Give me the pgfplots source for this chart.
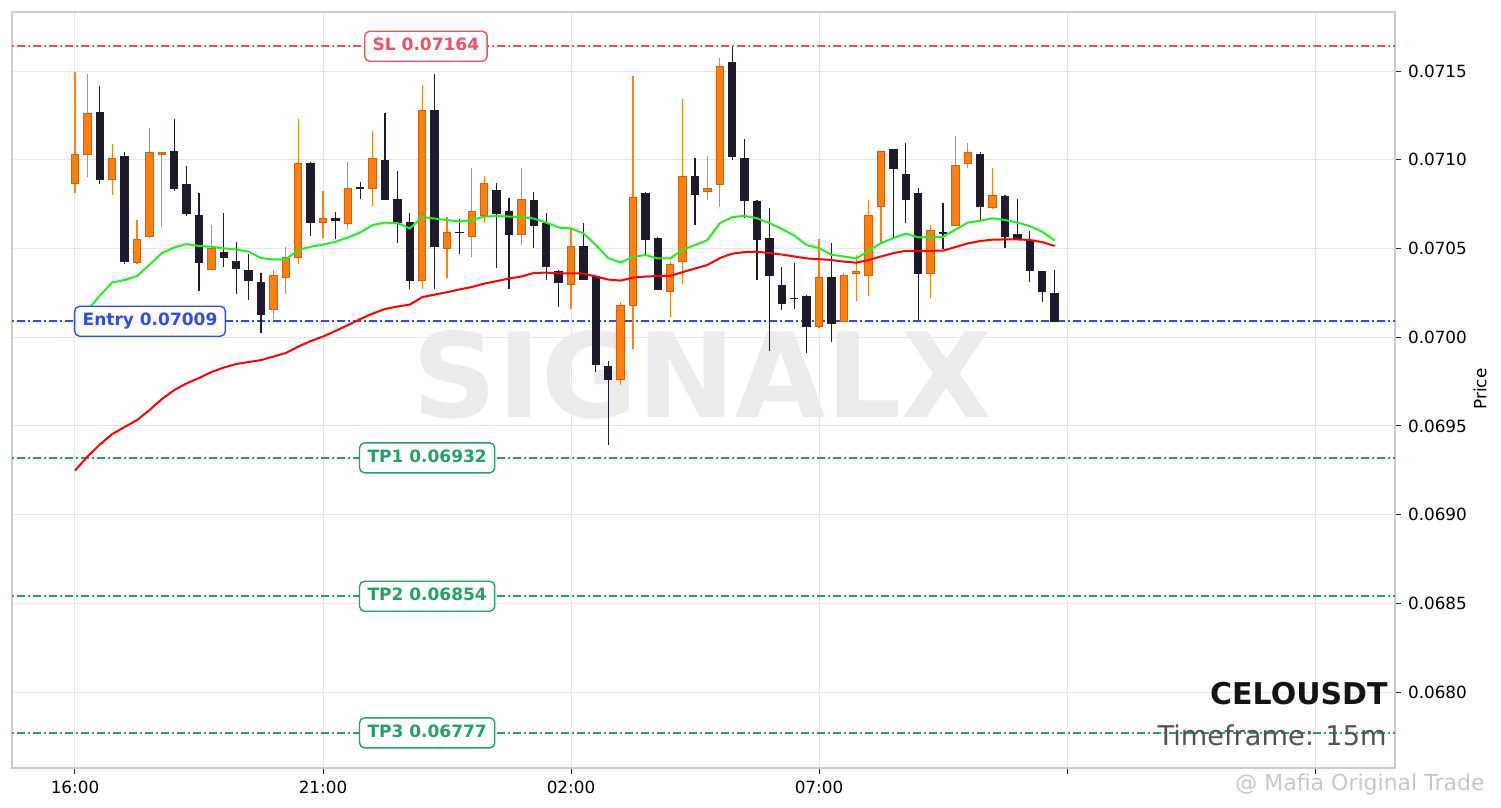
\documentclass[border=0pt]{standalone}
\usepackage{pgfplots}
\pgfplotsset{compat=1.18}
\usepackage{pgfplotstable}
\usepackage{fontspec}
\setmainfont{DejaVu Sans}
\definecolor{upfill}{RGB}{255,127,14}
\definecolor{upedge}{RGB}{214,96,10}
\definecolor{dncol}{RGB}{30,26,43}
\definecolor{slcol}{RGB}{242,80,98}
\definecolor{encol}{RGB}{45,75,240}
\definecolor{tpcol}{RGB}{36,160,100}
\definecolor{emag}{RGB}{34,238,34}
\definecolor{gridc}{RGB}{230,230,230}
\definecolor{framec}{RGB}{204,204,204}
\definecolor{wmark}{RGB}{235,235,235}

% up (orange) candles: index open high low close
\pgfplotstableread{
i O H L C
0 0.070867 0.071496 0.070811 0.071030
1 0.071030 0.071481 0.070904 0.071262
3 0.070890 0.071087 0.070800 0.071008
5 0.070420 0.070659 0.070412 0.070551
6 0.070566 0.071177 0.070557 0.071042
7 0.071030 0.071044 0.070619 0.071042
11 0.070384 0.070632 0.070378 0.070501
16 0.070157 0.070378 0.070101 0.070349
17 0.070337 0.070510 0.070243 0.070450
18 0.070450 0.071228 0.070412 0.070980
20 0.070645 0.070825 0.070557 0.070670
22 0.070642 0.070989 0.070608 0.070839
24 0.070839 0.071162 0.070739 0.071008
28 0.070318 0.071421 0.070270 0.071280
30 0.070499 0.070679 0.070332 0.070591
32 0.070566 0.070952 0.070450 0.070709
33 0.070684 0.070908 0.070645 0.070867
36 0.070580 0.070952 0.070519 0.070777
40 0.070296 0.070617 0.070157 0.070510
44 0.069762 0.070200 0.069730 0.070177
45 0.070177 0.071472 0.069933 0.070786
48 0.070260 0.070425 0.070112 0.070411
49 0.070425 0.071341 0.070300 0.070908
51 0.070820 0.071021 0.070773 0.070839
52 0.070861 0.071572 0.070735 0.071528
60 0.070059 0.070551 0.070050 0.070337
62 0.070087 0.070360 0.070087 0.070349
63 0.070360 0.070463 0.070205 0.070373
64 0.070346 0.070773 0.070232 0.070688
65 0.070739 0.071049 0.070532 0.071049
69 0.070360 0.070632 0.070219 0.070600
71 0.070628 0.071135 0.070628 0.070969
72 0.070980 0.071096 0.070952 0.071042
74 0.070730 0.070952 0.070721 0.070801
}\up

% down (dark) candles
\pgfplotstableread{
i O H L C
2 0.071270 0.071417 0.070863 0.070890
4 0.071019 0.071045 0.070412 0.070425
8 0.071049 0.071228 0.070825 0.070837
9 0.070863 0.070966 0.070684 0.070694
10 0.070688 0.070811 0.070260 0.070420
12 0.070480 0.070698 0.070397 0.070450
13 0.070429 0.070538 0.070243 0.070386
14 0.070378 0.070467 0.070209 0.070318
15 0.070309 0.070360 0.070022 0.070125
19 0.070980 0.070989 0.070570 0.070645
21 0.070670 0.070707 0.070551 0.070656
23 0.070846 0.070876 0.070777 0.070835
25 0.070998 0.071262 0.070773 0.070777
26 0.070777 0.070938 0.070529 0.070645
27 0.070647 0.070698 0.070270 0.070318
29 0.071280 0.071481 0.070270 0.070510
31 0.070593 0.070666 0.070469 0.070587
34 0.070829 0.070867 0.070388 0.070694
35 0.070709 0.070783 0.070270 0.070580
37 0.070773 0.070820 0.070501 0.070628
38 0.070645 0.070698 0.070322 0.070397
39 0.070374 0.070380 0.070172 0.070307
41 0.070510 0.070642 0.070322 0.070326
42 0.070346 0.070350 0.069802 0.069847
43 0.069839 0.069867 0.069392 0.069762
46 0.070811 0.070820 0.070463 0.070551
47 0.070557 0.070562 0.070265 0.070270
50 0.070908 0.071008 0.070632 0.070801
53 0.071549 0.071637 0.070998 0.071017
54 0.071008 0.071117 0.070670 0.070769
55 0.070769 0.070773 0.070322 0.070551
56 0.070557 0.070730 0.069924 0.070346
57 0.070290 0.070397 0.070153 0.070191
58 0.070222 0.070420 0.070157 0.070215
59 0.070232 0.070238 0.069909 0.070059
61 0.070337 0.070529 0.069974 0.070074
66 0.071059 0.071060 0.070566 0.070952
67 0.070918 0.071096 0.070642 0.070777
68 0.070811 0.070839 0.070097 0.070360
70 0.070591 0.070758 0.070495 0.070581
73 0.071030 0.071045 0.070660 0.070735
75 0.070792 0.070801 0.070501 0.070566
76 0.070580 0.070777 0.070551 0.070553
77 0.070542 0.070600 0.070309 0.070374
78 0.070373 0.070375 0.070200 0.070256
79 0.070247 0.070378 0.070087 0.070090
}\dn

% moving averages: index green red
\pgfplotstableread{
i G R
0 0.070057 0.069248
1 0.070153 0.069327
2 0.070234 0.069395
3 0.070309 0.069454
4 0.070322 0.069494
5 0.070345 0.069533
6 0.070408 0.069589
7 0.070474 0.069651
8 0.070506 0.069702
9 0.070525 0.069740
10 0.070514 0.069770
11 0.070510 0.069804
12 0.070501 0.069829
13 0.070494 0.069849
14 0.070482 0.069860
15 0.070446 0.069871
16 0.070438 0.069891
17 0.070440 0.069911
18 0.070491 0.069947
19 0.070510 0.069978
20 0.070522 0.070004
21 0.070538 0.070035
22 0.070562 0.070068
23 0.070590 0.070102
24 0.070632 0.070133
25 0.070646 0.070159
26 0.070643 0.070173
27 0.070613 0.070184
28 0.070677 0.070226
29 0.070669 0.070240
30 0.070660 0.070254
31 0.070652 0.070269
32 0.070660 0.070283
33 0.070680 0.070302
34 0.070683 0.070316
35 0.070680 0.070331
36 0.070677 0.070342
37 0.070669 0.070362
38 0.070646 0.070364
39 0.070618 0.070360
40 0.070613 0.070360
41 0.070585 0.070359
42 0.070519 0.070342
43 0.070446 0.070325
44 0.070421 0.070319
45 0.070453 0.070336
46 0.070463 0.070342
47 0.070444 0.070345
48 0.070444 0.070345
49 0.070494 0.070367
50 0.070519 0.070387
51 0.070548 0.070407
52 0.070643 0.070446
53 0.070677 0.070471
54 0.070684 0.070480
55 0.070670 0.070482
56 0.070643 0.070474
57 0.070610 0.070466
58 0.070573 0.070455
59 0.070519 0.070444
60 0.070502 0.070440
61 0.070465 0.070435
62 0.070455 0.070426
63 0.070444 0.070420
64 0.070486 0.070435
65 0.070531 0.070455
66 0.070559 0.070474
67 0.070584 0.070487
68 0.070563 0.070487
69 0.070564 0.070487
70 0.070566 0.070488
71 0.070607 0.070508
72 0.070646 0.070529
73 0.070657 0.070542
74 0.070670 0.070550
75 0.070660 0.070551
76 0.070646 0.070551
77 0.070626 0.070548
78 0.070594 0.070536
79 0.070545 0.070514
}\ema

\tikzset{lbl/.style={fill=white, rounded corners=2.5pt, line width=0.7pt,
  font=\fontsize{8.5}{10}\selectfont\bfseries, inner xsep=4pt, inner ysep=0pt,
  minimum height=15pt, text height=6.2pt, text depth=1.6pt}}
\pgfplotsset{hl/.style={line width=0.85pt, dash pattern=on 4pt off 1.5pt on 1pt off 1.5pt, forget plot, mark=none},
  cndl/.style={draw=none, mark=none, forget plot, error bars/.cd, y dir=plus, y explicit, error mark=none}}

\begin{document}
\begin{tikzpicture}
\path[use as bounding box] (-6pt,-20pt) rectangle (744.5pt,384pt);
\begin{axis}[
  at={(0pt,0pt)}, anchor=south west,
  scale only axis, width=691.5pt, height=378pt,
  xmin=-5.08, xmax=106.45, ymin=0.067572, ymax=0.071833,
  axis line style={framec, line width=0.6pt},
  xtick={0,20,40,60,80,100}, xticklabels={16:00,21:00,02:00,07:00,{},{}},
  ytick={0.068,0.0685,0.069,0.0695,0.07,0.0705,0.071,0.0715},
  yticklabels={0.0680,0.0685,0.0690,0.0695,0.0700,0.0705,0.0710,0.0715},
  scaled y ticks=false,
  xtick pos=bottom, ytick pos=right, yticklabel pos=right,
  tick align=outside, major tick length=3pt,
  tick style={black!85, line width=0.5pt},
  grid=major, major grid style={gridc, line width=0.5pt},
  ticklabel style={font=\fontsize{8.4}{10}\selectfont},
  clip mode=individual,
]
\node[font=\fontsize{58.7}{60}\selectfont\bfseries, text=wmark] at (axis cs:50.6,0.069787) {SIGNALX};

\addplot[hl, draw=slcol] coordinates {(-6,0.07164) (107,0.07164)};
\addplot[hl, draw=encol] coordinates {(-6,0.07009) (107,0.07009)};
\addplot[hl, draw=tpcol] coordinates {(-6,0.06932) (107,0.06932)};
\addplot[hl, draw=tpcol] coordinates {(-6,0.06854) (107,0.06854)};
\addplot[hl, draw=tpcol] coordinates {(-6,0.06777) (107,0.06777)};

% wicks
\addplot[cndl, error bar style={draw=upfill, line width=0.6pt}]
  table[x=i, y=L, y error plus expr=\thisrow{H}-\thisrow{L}] {\up};
\addplot[cndl, error bar style={draw=dncol, line width=0.6pt}]
  table[x=i, y=L, y error plus expr=\thisrow{H}-\thisrow{L}] {\dn};
% bodies
\addplot[cndl, error bar style={draw=upedge, line width=4.25pt}]
  table[x=i, y expr=\thisrow{O}-0.0000028, y error plus expr={\thisrow{C}-\thisrow{O}+0.0000056}] {\up};
\addplot[cndl, error bar style={draw=upfill, line width=3.25pt}]
  table[x=i, y expr=\thisrow{O}+0.0000028, y error plus expr={max(\thisrow{C}-\thisrow{O}-0.0000056,0)}] {\up};
\addplot[cndl, error bar style={draw=dncol, line width=4.25pt}]
  table[x=i, y expr=\thisrow{C}-0.0000015, y error plus expr={\thisrow{O}-\thisrow{C}+0.000003}] {\dn};

% moving averages
\addplot[draw=emag, line width=1pt, mark=none] table[x=i, y=G] {\ema};
\addplot[draw=red, line width=1pt, mark=none] table[x=i, y=R] {\ema};

\node[lbl, draw=slcol, text=slcol] at (axis cs:28.3,0.07164) {SL 0.07164};
\node[lbl, draw=encol, text=encol] at (axis cs:6.05,0.07009) {Entry 0.07009};
\node[lbl, draw=tpcol, text=tpcol] at (axis cs:28.4,0.06932) {TP1 0.06932};
\node[lbl, draw=tpcol, text=tpcol] at (axis cs:28.4,0.06854) {TP2 0.06854};
\node[lbl, draw=tpcol, text=tpcol] at (axis cs:28.4,0.06777) {TP3 0.06777};
\end{axis}
\node[rotate=90, font=\fontsize{8.4}{10}\selectfont] at (734pt,189.5pt) {Price};
\node[anchor=base east, inner sep=0pt, font=\fontsize{15}{17}\selectfont\bfseries, text=black!92] at (688pt,31.75pt) {CELOUSDT};
\node[anchor=base east, inner sep=0pt, font=\fontsize{13.6}{16}\selectfont, text=black!68] at (687.5pt,11pt) {Timeframe: 15m};
\node[anchor=base west, inner sep=0pt, font=\fontsize{11}{13}\selectfont, text=black!22] at (611.5pt,-11.5pt) {@ Mafia Original Trade};
\end{tikzpicture}
\end{document}
